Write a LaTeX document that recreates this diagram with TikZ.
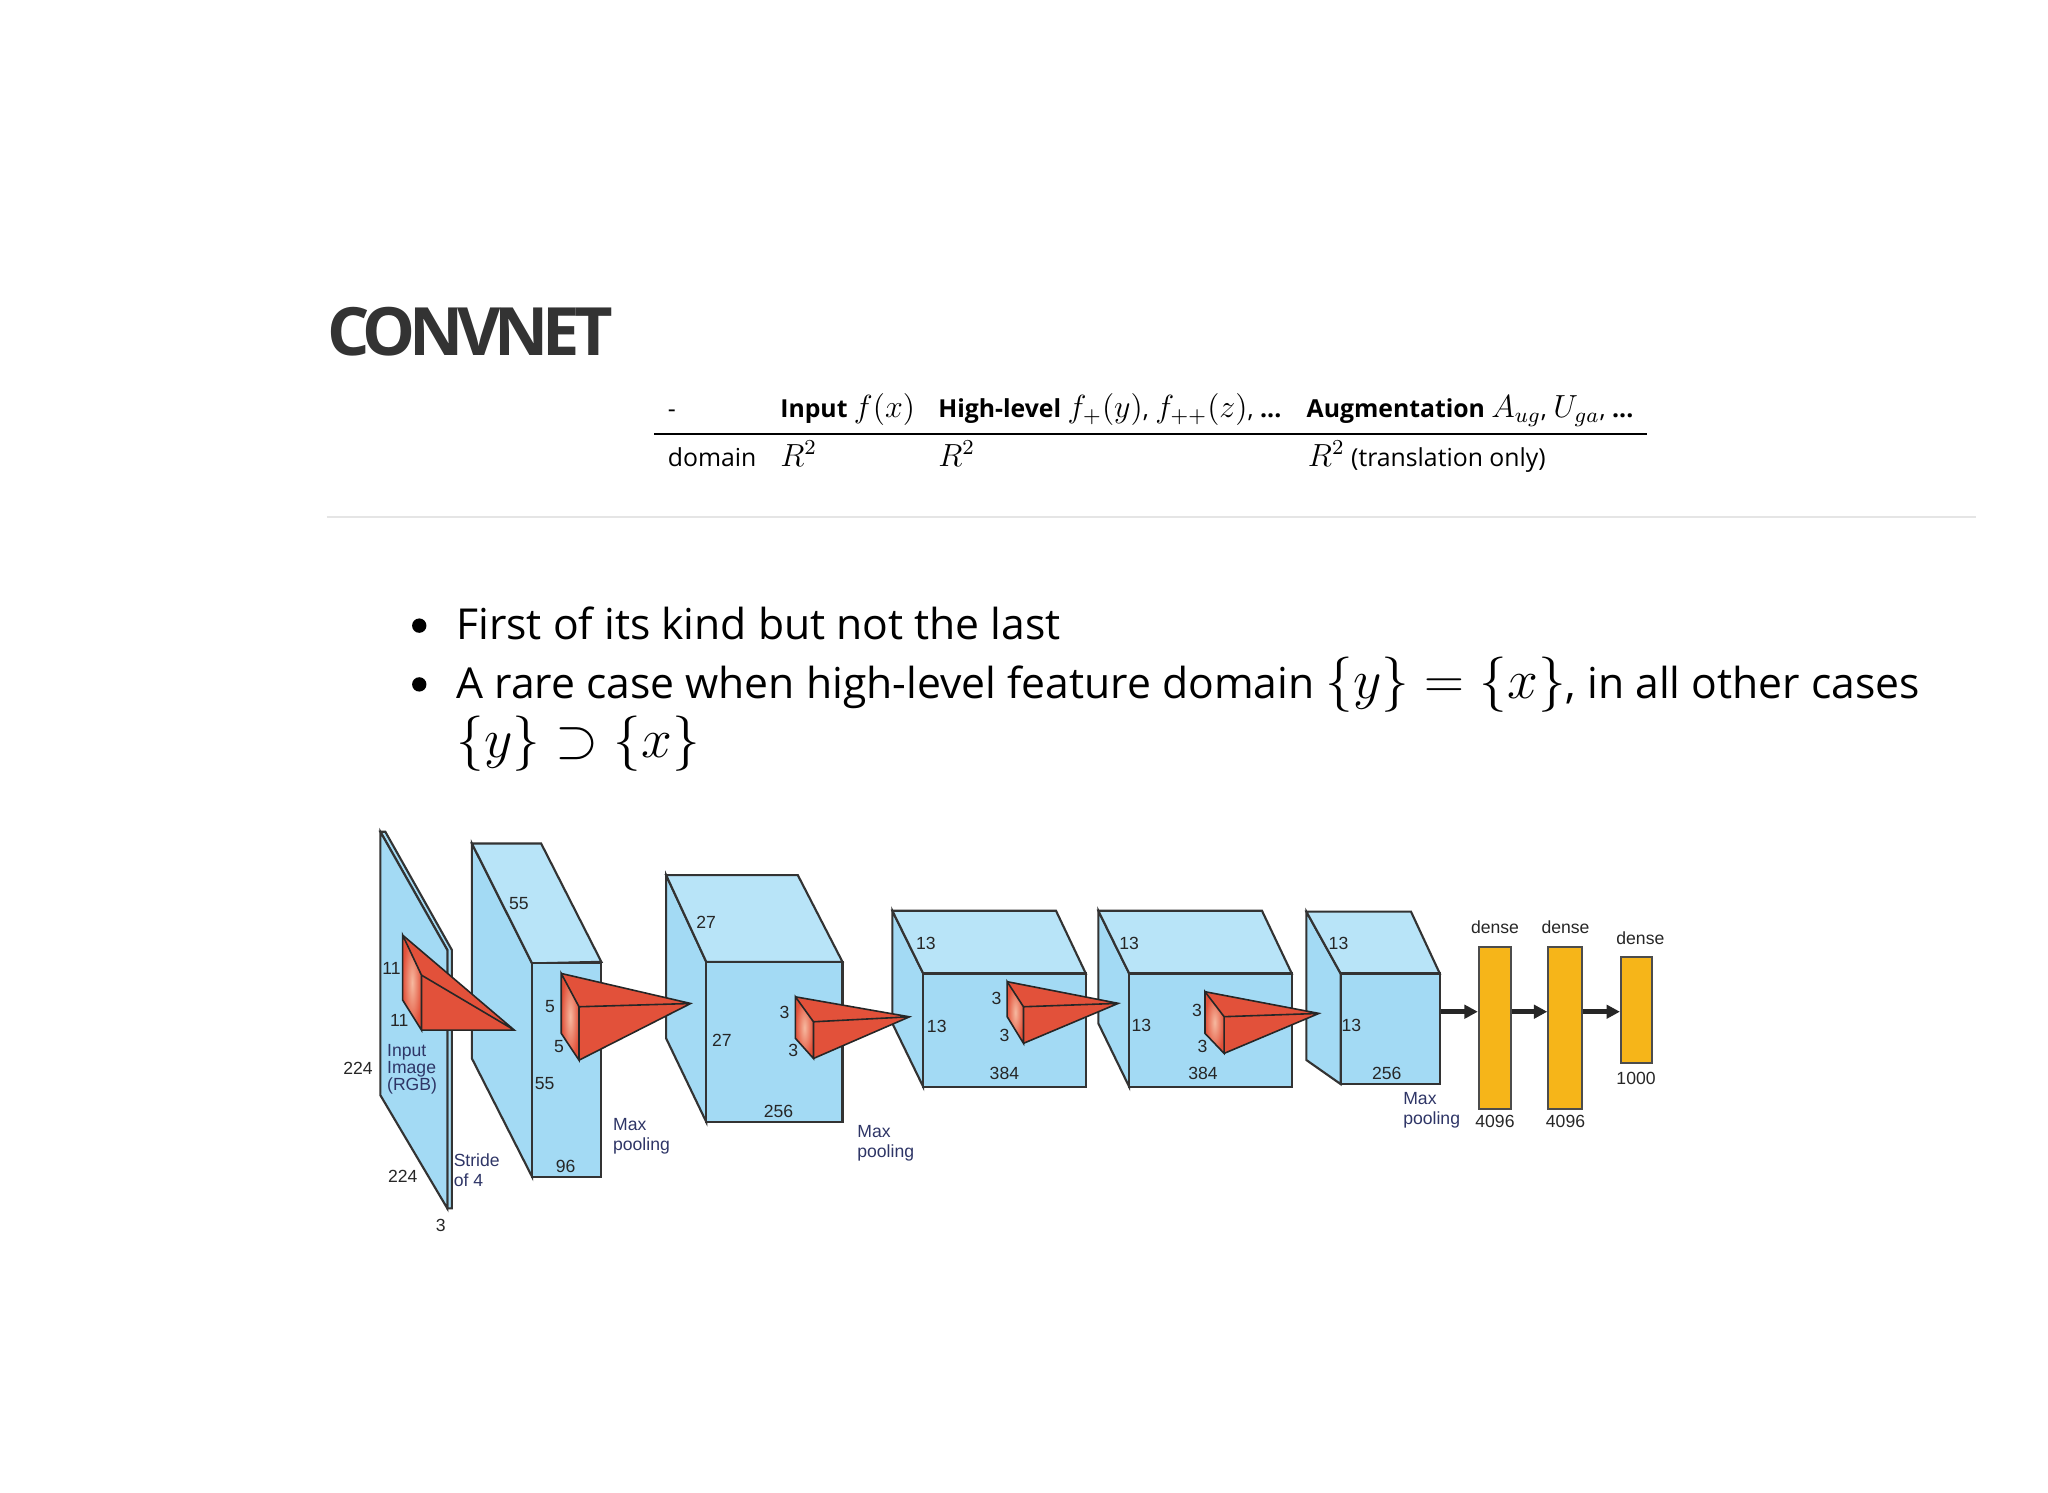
\documentclass[tikz,border=0pt]{standalone}
\usepackage{fontspec}
\setmainfont{Open Sans}
\newfontfamily\diagfont{Liberation Sans}
\usetikzlibrary{arrows.meta}
\definecolor{cubeblue}{HTML}{A3DAF4}
\definecolor{cubetop}{HTML}{B8E4F8}
\definecolor{kred}{HTML}{E2513A}
\definecolor{klight}{HTML}{F08A60}
\definecolor{dorange}{HTML}{F6B519}
\definecolor{lblue}{HTML}{2E3566}
\definecolor{titlegray}{HTML}{333333}
\tikzset{
  facestyle/.style={draw=black!80, line width=0.8pt, fill=cubeblue},
  topstyle/.style={draw=black!80, line width=0.8pt, fill=cubetop},
  kern/.style={draw=black!85, line width=0.6pt},
  kface/.style={draw=black!85, line width=0.6pt, inner color=klight!60!white, outer color=kred},
  dlab/.style={font=\diagfont\fontsize{6.6}{7.5}\selectfont, inner sep=0pt, text=black!85},
  blab/.style={font=\diagfont\fontsize{6.6}{8}\selectfont, inner sep=0pt, text=lblue, align=left, anchor=north west},
  tab/.style={font=\fontsize{9.3}{11}\selectfont, inner sep=0pt, anchor=base west},
  bul/.style={font=\fontsize{16}{19}\selectfont, inner sep=0pt, anchor=base west},
  bar/.style={draw=black!70, line width=0.7pt, fill=dorange},
  farrow/.style={-{Triangle[length=5pt,width=5pt]}, line width=2pt, black!85}
}
\newcommand{\kernelshape}[5]{%
  \fill[kred] #1 -- #5 -- #3 -- #4 -- cycle;
  \draw[kface] #1 -- #2 -- #3 -- #4 -- cycle;
  \draw[kern] #1 -- #5 -- #3 #2 -- #5;
}
\newcommand{\tm}[1]{{\fontsize{11.5}{13}\selectfont$#1$}}
\newcommand{\bm}[1]{{\fontsize{21}{24}\selectfont$#1$}}
\begin{document}
\begin{tikzpicture}[x=0.49pt,y=-0.49pt]
\useasboundingbox (0,0) rectangle (1568,1143);
% title
\node[anchor=base west, inner sep=0pt, text=titlegray, font=\fontsize{25}{30}\selectfont\bfseries\addfontfeature{LetterSpace=-9}] (title) at (250,272) {CONVNET};
% table
\node[tab] (h0) at (511,320) {-};
\node[tab] (h1) at (597,320) {\textbf{Input} \tm{f(x)}};
\node[tab] (h2) at (718,320) {\textbf{High-level} \tm{f_{+}(y)}, \tm{f_{++}(z)}, \textbf{...}};
\node[tab] (h3) at (1000,320) {\textbf{Augmentation} \tm{A_{ug}}, \tm{U_{ga}}, \textbf{...}};
\coordinate (rl) at (501,332); \coordinate (rr) at (1261,332);
\draw[line width=0.8pt] (rl) -- (rr);
\node[tab] (r0) at (511,357) {domain};
\node[tab] (r1) at (597,357) {\tm{R^2}};
\node[tab] (r2) at (718,357) {\tm{R^2}};
\node[tab] (r3) at (1001,357) {\tm{R^2} (translation only)};
\coordinate (gl) at (250,396); \coordinate (gr) at (1513,396);
\draw[black!10, line width=0.6pt] (gl) -- (gr);
% bullets
\node[bul] (b1) at (349,490) {First of its kind but not the last};
\node[bul] (b2) at (349,535) {A rare case when high-level feature domain \bm{\{y\}=\{x\}}, in all other cases};
\node[bul] (b3) at (349,580) {\bm{\{y\}\supset\{x\}}};
\fill (321,479) circle (5.5) node (d1) {};
\fill (321,524) circle (5.5) node (d2) {};
% ---------- input plane
\draw[facestyle] (291.2,636.8) -- (295,636.8) -- (346,727.4) -- (346,925.2) -- (342.5,925.2) -- (342.5,727.4) -- cycle;
\draw[facestyle] (291.2,636.8) -- (342.5,727.4) -- (342.5,925.2) -- (291.2,838.5) -- cycle;
% ---------- conv1 box
\draw[facestyle] (361.3,645.8) -- (407.4,737.6) -- (407.4,901) -- (361.3,810.4) -- cycle;
\draw[topstyle] (361.3,645.8) -- (414.3,645.8) -- (460.4,736.4) -- (407.4,737.6) -- cycle;
\draw[facestyle] (407.4,737.6) rectangle (460.4,901);
% conv2
\draw[facestyle] (510,670) -- (540.7,736.4) -- (540.7,858.9) -- (510,795) -- cycle;
\draw[topstyle] (510,670) -- (610.8,670) -- (645,736.4) -- (540.7,736.4) -- cycle;
\draw[facestyle] (540.7,736.4) rectangle (645,858.9);
% conv3
\draw[facestyle] (683.2,697.3) -- (706.8,745.3) -- (706.8,832) -- (683.2,783.5) -- cycle;
\draw[topstyle] (683.2,697.3) -- (808.5,697.3) -- (831.3,745.3) -- (706.8,745.3) -- cycle;
\draw[facestyle] (706.8,745.3) rectangle (831.3,832);
% conv4
\draw[facestyle] (840.9,697.3) -- (864.5,745.3) -- (864.5,832) -- (840.9,783.5) -- cycle;
\draw[topstyle] (840.9,697.3) -- (966.2,697.3) -- (989,745.3) -- (864.5,745.3) -- cycle;
\draw[facestyle] (864.5,745.3) rectangle (989,832);
% conv5
\draw[facestyle] (1000.2,698) -- (1026.4,745.3) -- (1026.4,830) -- (1000.2,811.6) -- cycle;
\draw[topstyle] (1000.2,698) -- (1080.3,698) -- (1102.3,745.3) -- (1026.4,745.3) -- cycle;
\draw[facestyle] (1026.4,745.3) rectangle (1102.3,830);
% ---------- kernels
\kernelshape{(308.3,716)}{(322.7,746.6)}{(322.7,788.7)}{(308.3,765.7)}{(393.8,788.7)}
\kernelshape{(429.7,745.3)}{(443.3,770.8)}{(443.3,811.7)}{(429.7,791.2)}{(528.8,768.3)}
\kernelshape{(609,763.2)}{(622.8,782.3)}{(622.8,810.4)}{(609,795)}{(696.3,778.5)}
\kernelshape{(771.1,751.6)}{(783.6,770.8)}{(783.6,798.8)}{(771.1,778.4)}{(856.2,768.2)}
\kernelshape{(922.6,759.3)}{(937.2,778.4)}{(937.2,806.5)}{(922.6,791.2)}{(1009.8,775.9)}
% ---------- dense bars
\node[bar, minimum width=12.2pt, minimum height=61pt, inner sep=0pt] (d4096a) at (1144.6,787.1) {};
\node[bar, minimum width=12.6pt, minimum height=61pt, inner sep=0pt] (d4096b) at (1198.2,787.1) {};
\node[bar, minimum width=11.8pt, minimum height=39.5pt, inner sep=0pt] (d1000) at (1253,773.3) {};
\coordinate (c5r) at (1103,774.6);
\draw[farrow] (c5r) -- (d4096a.west |- c5r);
\draw[farrow] (d4096a.east |- c5r) -- (d4096b.west |- c5r);
\draw[farrow] (d4096b.east |- c5r) -- (d1000.west |- c5r);
% ---------- labels
\node[dlab] (l11a) at (299.8,741.5) {11};
\node[dlab] (l11b) at (305.6,781.5) {11};
\node[dlab] (l224a) at (274.1,818) {224};
\node[blab] (linput) at (296,799) {Input\\[-1.5pt]Image\\[-1.5pt](RGB)};
\node[dlab] (l224b) at (308.3,901) {224};
\node[dlab] (l3) at (337.4,937.9) {3};
\node[blab] (lstride) at (347,883) {Stride\\[-0.5pt]of 4};
\node[dlab] (l55a) at (397.2,692) {55};
\node[dlab] (l5a) at (421.1,770.8) {5};
\node[dlab] (l5b) at (428,801.4) {5};
\node[dlab] (l55b) at (417,829.5) {55};
\node[dlab] (l96) at (433,893.3) {96};
\node[blab] (lmp1) at (469,856) {Max\\[-0.5pt]pooling};
\node[dlab] (l27a) at (540.7,706) {27};
\node[dlab] (l27b) at (552.7,796.3) {27};
\node[dlab] (l256a) at (596,851.2) {256};
\node[dlab] (l3a) at (600.6,775) {3};
\node[dlab] (l3b) at (607.4,804) {3};
\node[blab] (lmp2) at (656,861) {Max\\[-0.5pt]pooling};
\node[dlab] (l13a) at (708.9,722.6) {13};
\node[dlab] (l13b) at (717.2,786) {13};
\node[dlab] (l384a) at (769,821.8) {384};
\node[dlab] (l3c) at (762.9,764.4) {3};
\node[dlab] (l3d) at (769,792.5) {3};
\node[dlab] (l13c) at (864.5,722.6) {13};
\node[dlab] (l13d) at (873.8,784.8) {13};
\node[dlab] (l384b) at (921,821.8) {384};
\node[dlab] (l3e) at (916.4,773.3) {3};
\node[dlab] (l3f) at (920.6,801.4) {3};
\node[dlab] (l13e) at (1024.8,722.6) {13};
\node[dlab] (l13f) at (1034.7,784.8) {13};
\node[dlab] (l256b) at (1061.7,821.8) {256};
\node[blab] (lmp3) at (1074,836) {Max\\[-0.5pt]pooling};
\node[dlab] (lda) at (1144.6,709.8) {dense};
\node[dlab] (ldb) at (1198.6,709.8) {dense};
\node[dlab] (ldc) at (1255.9,718.7) {dense};
\node[dlab] (l4096a) at (1144.6,858.8) {4096};
\node[dlab] (l4096b) at (1198.6,858.8) {4096};
\node[dlab] (l1000) at (1252.6,825.6) {1000};
\end{tikzpicture}
\end{document}
